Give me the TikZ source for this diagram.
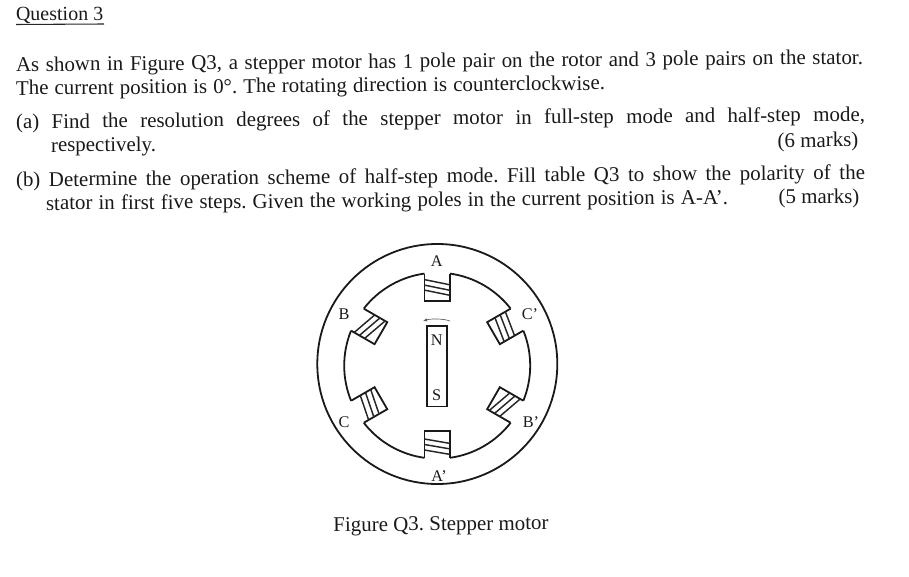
\documentclass[tikz,border=0pt]{standalone}
\usepackage{fontspec}
\usetikzlibrary{arrows.meta}
\setmainfont{Liberation Serif}
\tikzset{
  x=0.75pt,y=0.75pt,
  body/.style={anchor=west,inner sep=0pt,outer sep=0pt,rotate=0.5,font=\fontsize{15.7}{17}\selectfont\frenchspacing,text=black!90},
  rbody/.style={body,rotate=0,anchor=center},
  lab/.style={inner sep=0pt,font=\fontsize{12.2}{14}\selectfont,text=black!90},
  ink/.style={line width=1.35pt,draw=black!90,line join=miter},
  coil/.style={line width=1.1pt,draw=black!85}
}
\newcommand{\just}[2]{\makebox[#1][s]{#2}}
\begin{document}
\begin{tikzpicture}
\useasboundingbox (0,0) rectangle (909,-577);
\node[body,rotate=0,font=\fontsize{15}{17}\selectfont] (title) at (16,-16) {Question 3};
\draw[line width=0.8pt,black!85] (16,-24.5) -- (104,-24);
\node[body] (l1) at (16,-66.5) {\just{635.25pt}{As shown in Figure Q3, a stepper motor has 1 pole pair on the rotor and 3 pole pairs on the stator.}};
\node[body] (l2) at (16,-90) {\just{441.75pt}{The current position is 0°. The rotating direction is counterclockwise.}};
\node[body] (l3) at (16,-123.5) {\just{636.75pt}{(a) Find the resolution degrees of the stepper motor in full-step mode and half-step mode,}};
\node[body] (l4) at (51,-147) {respectively.};
\node[rbody] (m6) at (818,-142) {(6 marks)};
\node[body] (l5) at (16,-181.5) {\just{636.75pt}{(b) Determine the operation scheme of half-step mode. Fill table Q3 to show the polarity of the}};
\node[body] (l6) at (46,-205) {\just{511.5pt}{stator in first five steps. Given the working poles in the current position is A-A’.}};
\node[rbody] (m5) at (819,-198.5) {(5 marks)};
\node[rbody] (cap) at (441,-526) {Figure Q3. Stepper motor};
% frame
\draw[ink] (437.3,-364) circle[radius=120];
\begin{scope}[shift={(437.2,-365.7)}]
  \foreach \a/\s/\ra/\rb/\rc in {90/2.6/73/78/83.5,150/4.5/72/78/84,210/2.5/72/78/84,270/2.2/75.5/81/86.5,330/4.5/72/78/84,30/2/72/78/84}{
    \pgfmathsetmacro{\ab}{\a+7.9}
    \pgfmathsetmacro{\ae}{\a+52.1}
    \draw[ink] (\ab:93) arc[start angle=\ab,end angle=\ae,radius=93];
    \begin{scope}[rotate=\a]
      \draw[ink] (92,12.7) -- (65,12.7) -- (65,-12.7) -- (92,-12.7);
      \draw[coil] (\ra+\s,12.7) -- (\ra-\s,-12.7);
      \draw[coil] (\rb+\s,12.7) -- (\rb-\s,-12.7);
      \draw[coil] (\rc+\s,12.7) -- (\rc-\s,-12.7);
    \end{scope}
  }
\end{scope}
% rotor
\node[draw=black!90,line width=1.2pt,minimum width=14.8pt,minimum height=60.5pt,inner sep=0pt] (rotor) at (437,-366.3) {};
\node[lab] (n) at (436.7,-340) {N};
\node[lab] (s) at (436.7,-395.5) {S};
\coordinate (arrowS) at (450,-321);
\coordinate (arrowE) at (423,-321);
\draw[line width=0.5pt,black!65,-{Latex[length=3pt,width=2.5pt]}] (arrowS) .. controls (443,-318.5) and (431,-318.5) .. (arrowE);
\node[lab] (la) at (436.7,-261) {A};
\node[lab] (lap) at (439,-476) {A’};
\node[lab] (lb) at (344,-314) {B};
\node[lab] (lc) at (344,-422) {C};
\node[lab] (lcp) at (530,-314) {C’};
\node[lab] (lbp) at (531,-422) {B’};
\end{tikzpicture}
\end{document}
